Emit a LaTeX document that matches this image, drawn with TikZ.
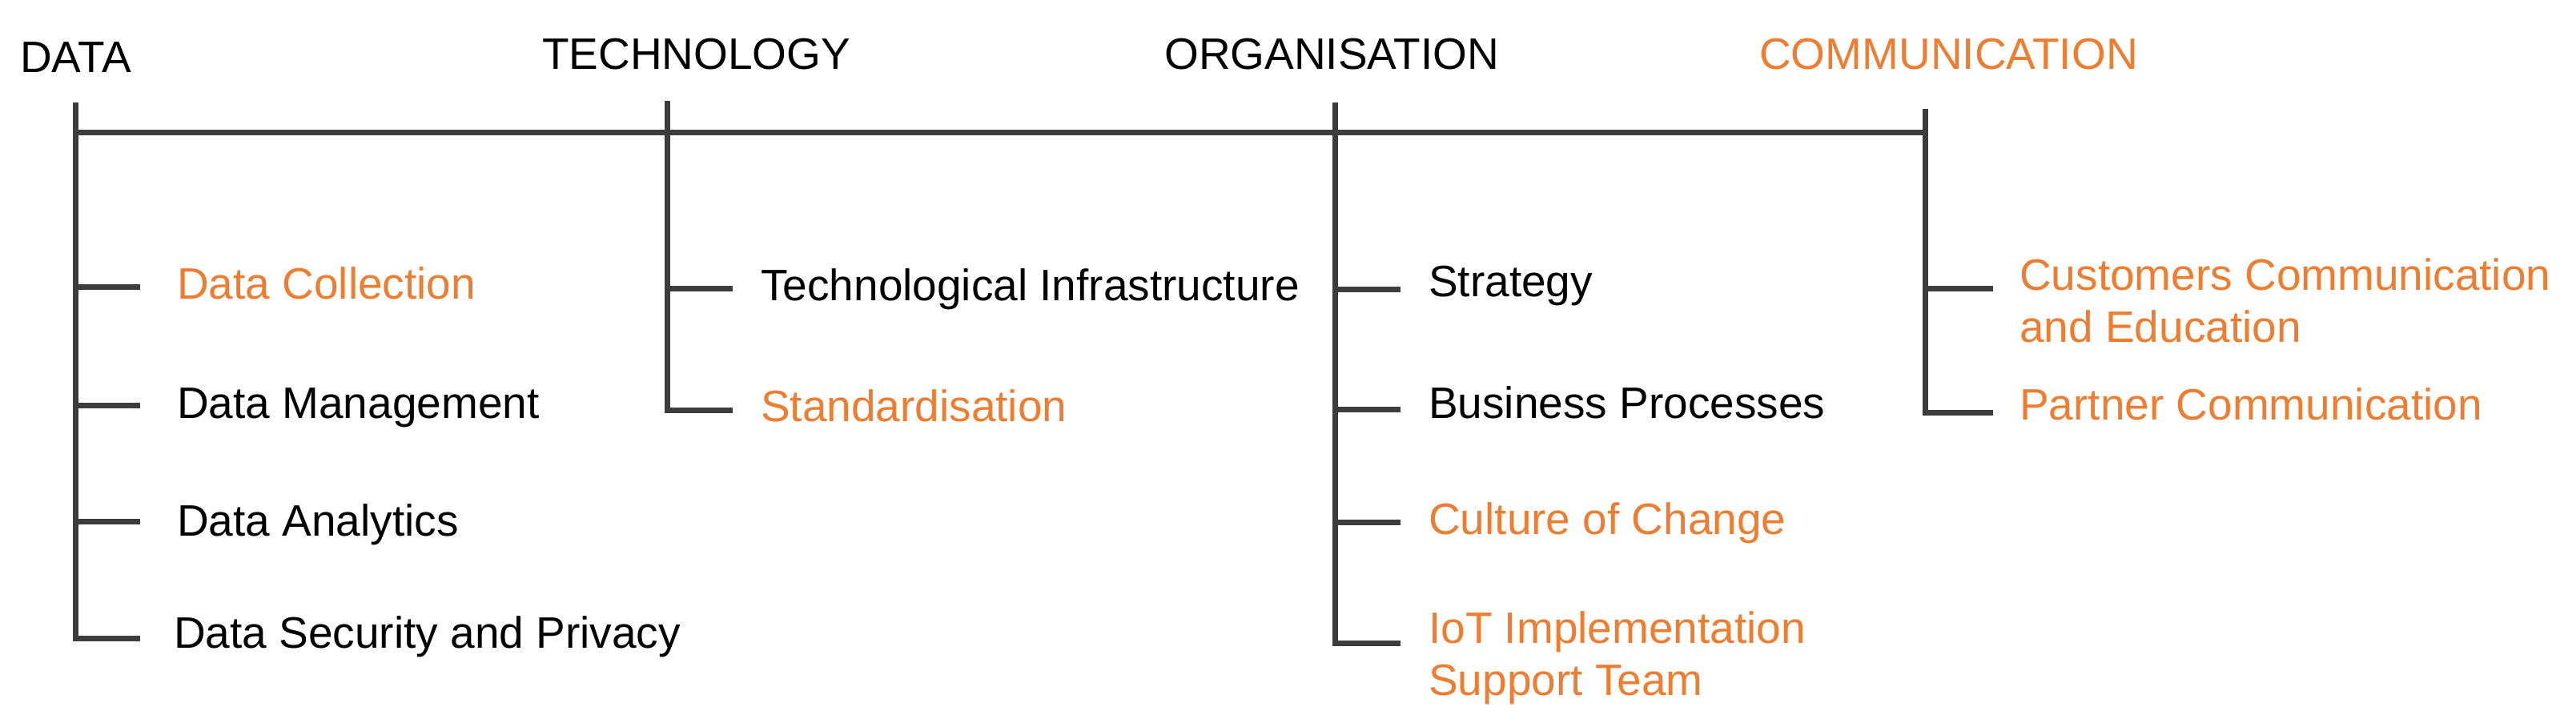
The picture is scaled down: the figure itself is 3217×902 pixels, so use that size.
\documentclass[tikz,border=0pt]{standalone}
\usepackage{fontspec}
\setmainfont{Liberation Sans}
\definecolor{orng}{RGB}{237,125,49}
\definecolor{ln}{RGB}{60,60,60}
\begin{document}
\begin{tikzpicture}[x=1pt,y=-1pt,
  lbl/.style={anchor=base west,inner sep=0pt,font=\fontsize{55}{65}\selectfont,text=black},
  hl/.style={lbl,text=orng},
  bar/.style={draw=ln,line width=7pt}]
\useasboundingbox (0,0) rectangle (3217,902);
% headers
\node[lbl] (hdata) at (25,90) {DATA};
\node[lbl] (htech) at (677,86) {TECHNOLOGY};
\node[lbl] (horg) at (1454,86) {ORGANISATION};
\node[hl] (hcomm) at (2197,86) {COMMUNICATION};
% trunk coordinates
\coordinate (dtop) at (94,128);
\coordinate (ttop) at (833,126);
\coordinate (otop) at (1667,128);
\coordinate (ctop) at (2404,136);
\draw[bar] (94,165) -- (2404,165);
% DATA
\draw[bar] (dtop) -- (94,797) -- (175,797);
\draw[bar] (94,358) -- (175,358);
\draw[bar] (94,506) -- (175,506);
\draw[bar] (94,651) -- (175,651);
\node[hl] (d1) at (221,373) {Data Collection};
\node[lbl] (d2) at (221,522) {Data Management};
\node[lbl] (d3) at (221,669) {Data Analytics};
\node[lbl] (d4) at (217,809) {Data Security and Privacy};
% TECHNOLOGY
\draw[bar] (ttop) -- (833,512) -- (915,512);
\draw[bar] (833,360) -- (915,360);
\node[lbl] (t1) at (950,375) {Technological Infrastructure};
\node[hl] (t2) at (950,526) {Standardisation};
% ORGANISATION
\draw[bar] (otop) -- (1667,803) -- (1749,803);
\draw[bar] (1667,361) -- (1749,361);
\draw[bar] (1667,511) -- (1749,511);
\draw[bar] (1667,652) -- (1749,652);
\node[lbl] (o1) at (1784,370) {Strategy};
\node[lbl] (o2) at (1784,522) {Business Processes};
\node[hl] (o3) at (1784,667) {Culture of Change};
\node[hl] (o4) at (1784,803) {\vtop{\hbox{IoT Implementation}\hbox{Support Team}}};
% COMMUNICATION
\draw[bar] (ctop) -- (2404,515) -- (2489,515);
\draw[bar] (2404,360) -- (2489,360);
\node[hl] (c1) at (2522,362) {\vtop{\hbox{Customers Communication}\hbox{and Education}}};
\node[hl] (c2) at (2522,524) {Partner Communication};
\end{tikzpicture}
\end{document}
